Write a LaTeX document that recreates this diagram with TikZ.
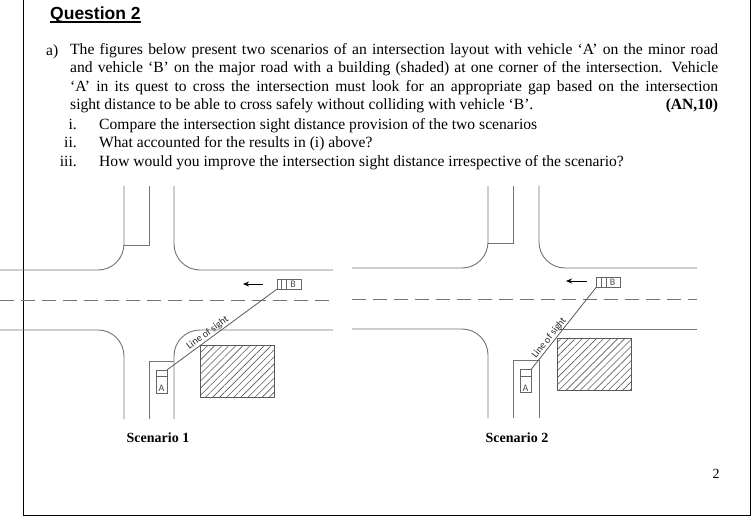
\documentclass[tikz,border=0pt]{standalone}
\usepackage{fontspec}
\setmainfont{Liberation Serif}
\newfontfamily\hdfont{Liberation Sans}
\newfontfamily\losfont{Carlito}
\usetikzlibrary{patterns.meta,arrows.meta}
\begin{document}
\begin{tikzpicture}[x=1pt,y=-1pt,
  road/.style={draw=black!55,line width=0.9pt,rounded corners=26pt},
  plain/.style={draw=black!55,line width=0.9pt},
  cl/.style={draw=black!55,line width=0.9pt,dash pattern=on 14pt off 7pt},
  carv/.style={draw=black!60,line width=0.7pt,minimum width=11pt,minimum height=23pt,inner sep=0pt},
  carh/.style={draw=black!60,line width=0.7pt,minimum width=24pt,minimum height=10pt,inner sep=0pt},
  bldg/.style={draw=black!65,line width=0.8pt,pattern={Lines[angle=45,distance=5pt,line width=0.6pt]},pattern color=black!65},
  los/.style={draw=black!65,line width=0.8pt},
  loslab/.style={font=\losfont\fontsize{10}{10}\selectfont,text=black!85,sloped,inner sep=1pt},
  mv/.style={-{Stealth[length=6pt,width=5pt]},line width=1pt},
  body/.style={font=\fontsize{15.6}{18.5}\selectfont,inner sep=0pt}]
\useasboundingbox (0,0) rectangle (756,525);
\draw[line width=1pt] (23,0) -- (23,515) -- (750,515) -- (750,0);
% header
\node[font=\hdfont\bfseries\fontsize{17.5}{19}\selectfont,anchor=base west,inner sep=0pt] (q) at (50,19) {Question 2};
\draw[line width=1.1pt] (50,22) -- (q.east |- 0,22);
\node[body,anchor=base west] (a) at (46,55) {a)};
\node[body,anchor=north west,text width=648pt,align=justify] (p) at (70,43) {The figures below present two scenarios of an intersection layout with vehicle ‘A’ on the minor road\linebreak and vehicle ‘B’ on the major road with a building (shaded) at one corner of the intersection. Vehicle\linebreak ‘A’ in its quest to cross the intersection must look for an appropriate gap based on the intersection\linebreak sight distance to be able to cross safely without colliding with vehicle ‘B’.\hfill\textbf{(AN,10)}\hspace*{3pt}};
\node[body,anchor=base east] (i1) at (77,129) {i.};
\node[body,anchor=base east] (i2) at (77,147.5) {ii.};
\node[body,anchor=base east] (i3) at (77,166) {iii.};
\node[body,anchor=base west] (t1) at (99,129) {Compare the intersection sight distance provision of the two scenarios};
\node[body,anchor=base west] (t2) at (99,147.5) {What accounted for the results in (i) above?};
\node[body,anchor=base west] (t3) at (99,166) {How would you improve the intersection sight distance irrespective of the scenario?};
% scenario 1
\draw[road] (0,270) -- (124,270) -- (124,186);
\draw[plain] (124,245) -- (149,245) -- (149,186);
\draw[road] (174,186) -- (174,270) -- (333,270);
\draw[cl] (0,300) -- (333,300);
\draw[road] (0,330) -- (124,330) -- (124,419);
\draw[road] (333,330) -- (174,330) -- (174,419);
\draw[plain] (149,419) -- (149,361) -- (174,361);
\draw[bldg] (200,345) rectangle (274,397);
\node[carv] (A1) at (161.5,381.5) {};
\draw[black!60,line width=0.7pt] ([yshift=-7pt]A1.north west) -- ([yshift=-7pt]A1.north east);
\node[font=\losfont\fontsize{10}{10}\selectfont,text=black!70,inner sep=0pt] at ([yshift=-7pt]A1.center) {A};
\node[carh] (B1) at (289,284) {};
\draw[black!60,line width=0.7pt] ([xshift=5pt]B1.north west) -- ([xshift=5pt]B1.south west) ([xshift=10pt]B1.north west) -- ([xshift=10pt]B1.south west);
\node[font=\losfont\fontsize{10}{10}\selectfont,text=black!70,inner sep=0pt] at ([xshift=4pt]B1.center) {B};
\draw[los] (A1.north east) -- node[loslab,above,pos=0.4] {Line of sight} (B1.south west);
\coordinate (m1s) at (263,284); \coordinate (m1e) at (243,284);
\draw[mv] (m1s) -- (m1e);
\node[font=\bfseries\fontsize{14}{16}\selectfont] (s1) at (158,438) {Scenario 1};
% scenario 2
\draw[road] (352,268) -- (488,268) -- (488,186);
\draw[plain] (488,243) -- (513,243) -- (513,186);
\draw[road] (539,186) -- (539,268) -- (697,268);
\draw[cl] (352,299) -- (697,299);
\draw[road] (352,329) -- (488,329) -- (488,418);
\draw[plain] (697,329) -- (560,329);
\draw[plain] (539,360) -- (539,418);
\draw[plain] (513,418) -- (513,360) -- (539,360);
\draw[bldg] (557,338) rectangle (631,390);
\node[carv] (A2) at (525.5,381) {};
\draw[black!60,line width=0.7pt] ([yshift=-7pt]A2.north west) -- ([yshift=-7pt]A2.north east);
\node[font=\losfont\fontsize{10}{10}\selectfont,text=black!70,inner sep=0pt] at ([yshift=-7pt]A2.center) {A};
\node[carh] (B2) at (608.5,282) {};
\draw[black!60,line width=0.7pt] ([xshift=5pt]B2.north west) -- ([xshift=5pt]B2.south west) ([xshift=10pt]B2.north west) -- ([xshift=10pt]B2.south west);
\node[font=\losfont\fontsize{10}{10}\selectfont,text=black!70,inner sep=0pt] at ([xshift=4pt]B2.center) {B};
\draw[los] (A2.north east) -- node[loslab,above,pos=0.34,inner sep=0.5pt] {Line of sight} (B2.south west);
\coordinate (m2s) at (587,281); \coordinate (m2e) at (566,281);
\draw[mv] (m2s) -- (m2e);
\node[font=\bfseries\fontsize{14}{16}\selectfont] (s2) at (517,438) {Scenario 2};
\node[font=\fontsize{14}{16}\selectfont] (pg) at (716,474) {2};
\end{tikzpicture}
\end{document}
